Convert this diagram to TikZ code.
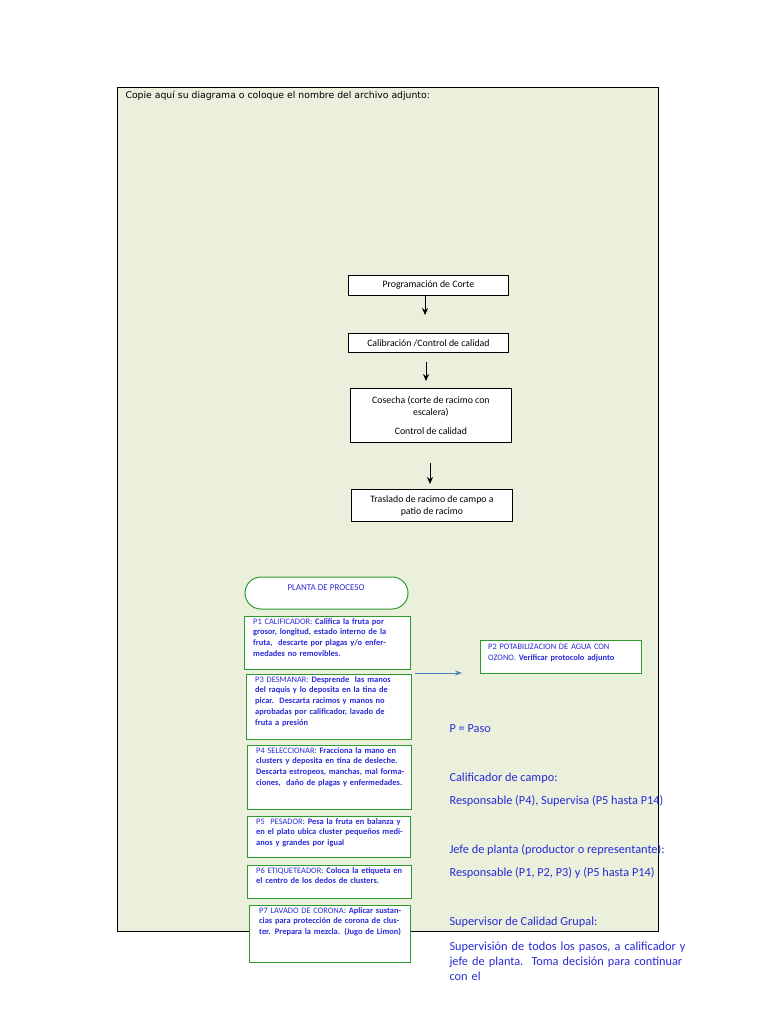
\documentclass[tikz,border=0pt]{standalone}
\usepackage{fontspec}
\setmainfont{Carlito}
\newfontfamily\vfont{DejaVu Sans}
\usetikzlibrary{arrows.meta}
\definecolor{bgg}{HTML}{EAF0DC}
\definecolor{txb}{HTML}{2A2AD8}
\definecolor{grb}{HTML}{2E9A2E}
\definecolor{arb}{HTML}{4F7FC0}
\begin{document}
\begin{tikzpicture}[x=1pt,y=-1pt,
  wbox/.style={draw=black,fill=white,line width=0.8pt,align=center,font=\fontsize{9.8}{12}\selectfont,inner sep=2pt},
  gbox/.style={align=left,anchor=north west,font=\fontsize{8.4}{10.8}\selectfont\bfseries\color{txb},inner sep=0pt,text width=150pt},
  gfr/.style={draw=grb,fill=white,line width=1pt},
  rt/.style={anchor=west,font=\fontsize{12.3}{15}\selectfont\color{txb}},
  arr/.style={-{Stealth[length=7pt,width=6pt]},line width=0.8pt}]
\useasboundingbox (0,0) rectangle (768,1024);
\fill[white] (0,0) rectangle (768,1024);
\draw[fill=bgg,line width=0.8pt] (117,87) rectangle (658,931);
\node[anchor=west,font=\vfont\fontsize{9.3}{10}\selectfont] (title) at (122,96) {Copie aquí su diagrama o coloque el nombre del archivo adjunto:};
\node[wbox,minimum width=160pt,minimum height=20pt,anchor=north west] (a) at (348,275) {Programación de Corte};
\node[wbox,minimum width=160pt,minimum height=19pt,anchor=north west] (b) at (348,333) {Calibración /Control de calidad};
\node[wbox,minimum width=161pt,minimum height=54pt,anchor=north west] (c) at (350,388) {Cosecha (corte de racimo con\\escalera)\\[7pt]Control de calidad};
\node[wbox,minimum width=161pt,minimum height=32pt,anchor=north west] (d) at (351,489) {Traslado de racimo de campo a\\patio de racimo};
\coordinate (a1) at (425,296); \coordinate (a2) at (425,315);
\coordinate (b1) at (426,362); \coordinate (b2) at (426,381);
\coordinate (c1) at (430,463); \coordinate (c2) at (430,484);
\draw[arr] (a1) -- (a2); \draw[arr] (b1) -- (b2); \draw[arr] (c1) -- (c2);
\draw[gfr,rounded corners=16pt] (245,577) rectangle (408,609);
\node[font=\fontsize{9}{9}\selectfont\color{txb}] (pl) at (326,588) {PLANTA DE PROCESO};
\draw[gfr] (244,616) rectangle (410,669);
\node[gbox,text width=150pt] (p1) at (253,618) {\raggedright\mdseries P1 CALIFICADOR: \bfseries Califica la fruta por grosor, longitud, estado interno de la fruta,\ \ descarte por plagas y/o enfermedades no removibles.};
\draw[gfr] (246,674) rectangle (411,739);
\node[gbox,text width=142pt] (p3) at (255,676) {\raggedright\mdseries P3 DESMANAR: \bfseries Desprende\ \ las manos del raquis y lo deposita en la tina de picar.\ \ Descarta racimos y manos no aprobadas por calificador, lavado de fruta a presión};
\draw[gfr] (247,745) rectangle (411,809);
\node[gbox,text width=150pt] (p4) at (256,747) {\raggedright\mdseries P4 SELECCIONAR: \bfseries Fracciona la mano en clusters y deposita en tina de desleche.\ \ Descarta estropeos, manchas, mal formaciones,\ \ daño de plagas y enfermedades.};
\draw[gfr] (247,816) rectangle (410,857);
\node[gbox,text width=150pt] (p5) at (256,818) {\raggedright\mdseries P5\ \ PESADOR: \bfseries Pesa la fruta en balanza y en el plato ubica cluster pequeños medianos y grandes por igual};
\draw[gfr] (247,865) rectangle (411,898);
\node[gbox,text width=150pt] (p6) at (256,867) {\raggedright\mdseries P6 ETIQUETEADOR: \bfseries Coloca la etiqueta en el centro de los dedos de clusters.};
\draw[gfr] (249,905) rectangle (410,962);
\node[gbox,text width=146pt] (p7) at (259,907) {\raggedright\mdseries P7 LAVADO DE CORONA: \bfseries Aplicar sustancias para protección de corona de cluster. Prepara la mezcla. (Jugo de Limon)};
\draw[gfr] (480,640) rectangle (641,673);
\node[gbox,text width=150pt] (p2) at (488,644) {\raggedright\mdseries P2 POTABILIZACION DE AGUA CON OZONO. \bfseries Verificar protocolo adjunto};
\coordinate (e1) at (415,673); \coordinate (e2) at (462,673);
\draw[-{Stealth[length=7pt,width=5pt]},arb,line width=0.6pt] (e1) -- (e2);
\node[rt] (t1) at (446,729) {P = Paso};
\node[rt] (t2) at (446,778) {Calificador de campo:};
\node[rt] (t3) at (446,801) {Responsable (P4), Supervisa (P5 hasta P14)};
\node[rt] (t4) at (446,850) {Jefe de planta (productor o representante):};
\node[rt] (t5) at (446,873) {Responsable (P1, P2, P3) y (P5 hasta P14)};
\node[rt] (t6) at (446,922) {Supervisor de Calidad Grupal:};
\node[rt,anchor=north west,align=left,text width=245pt] (t7) at (446,938) {\raggedright Supervisión de todos los pasos, a calificador y jefe de planta.\ \ Toma decisión para continuar con el};
\end{tikzpicture}
\end{document}
